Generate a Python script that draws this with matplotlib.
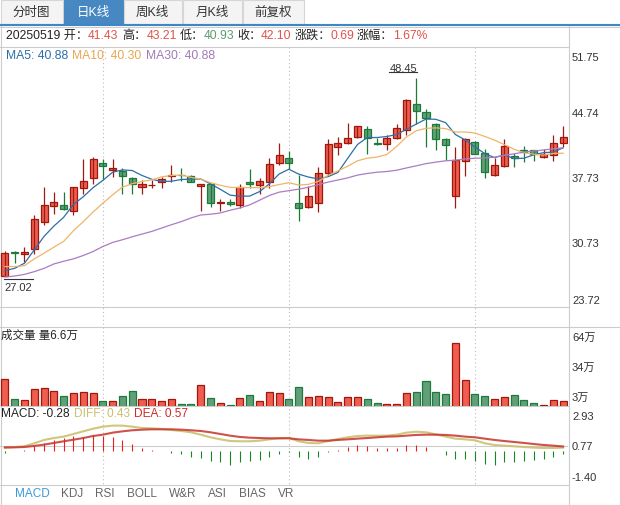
import matplotlib
matplotlib.use("Agg")
import matplotlib.pyplot as plt
import numpy as np
import pandas as pd
from matplotlib.lines import Line2D
from matplotlib.patches import Rectangle
from matplotlib.transforms import blended_transform_factory, ScaledTranslation

plt.rcParams['font.family'] = ['Liberation Sans', 'Noto Sans CJK SC']

# ---- data (daily K line, last 58 sessions) ----
last_date = "20250519"
opens = [27.06, 29.67, 29.38, 29.95, 32.88, 34.62, 34.73, 34.04, 36.57, 37.58,
         39.25, 38.52, 38.34, 37.66, 36.64, 36.82, 37.22, 37.87, 37.98, 37.87,
         36.75, 36.93, 34.91, 35.05, 34.69, 37.22, 36.86, 37.22, 39.28, 39.83,
         34.94, 34.51, 34.94, 38.13, 41.02, 41.45, 42.10, 42.86, 41.45, 41.27,
         41.99, 42.79, 45.57, 44.71, 43.40, 41.88, 35.70, 39.50, 41.56, 40.37,
         37.98, 38.92, 39.97, 40.69, 40.62, 39.93, 40.11, 41.43]
highs = [29.81, 29.77, 30.24, 33.68, 36.64, 36.10, 36.10, 36.64, 39.64, 39.93,
         39.64, 39.72, 38.70, 37.70, 37.40, 37.40, 37.76, 39.07, 38.67, 37.91,
         36.97, 37.00, 35.38, 35.38, 36.93, 38.63, 37.66, 39.75, 41.45, 40.58,
         37.91, 36.75, 38.81, 41.81, 42.10, 43.51, 43.26, 43.22, 41.96, 42.25,
         43.48, 46.15, 48.45, 45.07, 43.51, 41.92, 41.02, 41.92, 41.60, 40.80,
         39.79, 41.78, 40.37, 41.13, 40.69, 40.80, 42.28, 43.21]
lows = [27.02, 28.44, 28.62, 29.41, 32.59, 33.75, 34.22, 33.68, 35.85, 36.93,
        37.47, 37.76, 35.92, 35.85, 35.85, 36.53, 36.57, 37.19, 37.29, 37.19,
        34.04, 34.51, 34.04, 34.65, 34.40, 36.57, 35.85, 36.50, 38.99, 38.63,
        32.96, 34.40, 33.93, 37.84, 40.11, 41.27, 41.96, 40.26, 41.16, 40.62,
        41.81, 42.25, 43.44, 41.02, 40.69, 39.57, 34.40, 37.84, 40.22, 37.58,
        37.84, 38.81, 38.85, 39.39, 39.43, 39.79, 39.46, 40.93]
closes = [29.52, 29.55, 29.67, 33.21, 34.73, 35.05, 34.29, 36.61, 37.33, 39.64,
          38.96, 38.70, 37.87, 37.00, 36.97, 36.90, 37.55, 37.98, 37.91, 37.22,
          36.93, 34.94, 35.02, 34.80, 36.64, 37.00, 37.33, 39.17, 40.15, 39.21,
          34.37, 35.74, 38.20, 41.34, 41.45, 41.99, 43.19, 41.99, 41.34, 41.99,
          43.04, 46.01, 44.81, 44.05, 41.88, 41.23, 39.61, 41.88, 40.26, 38.31,
          39.07, 41.13, 39.80, 40.48, 40.18, 40.22, 41.41, 42.10]
# volume in 万
volumes = [24.1, 8.2, 7.4, 15.9, 17.1, 14.4, 11.0, 12.8, 13.6, 12.8,
           7.1, 6.6, 11.0, 14.4, 8.2, 8.2, 6.6, 8.2, 4.8, 4.8,
           19.0, 8.9, 5.1, 3.5, 8.9, 11.7, 6.6, 13.6, 12.8, 8.2,
           17.9, 10.0, 10.7, 9.7, 6.1, 9.7, 9.7, 8.4, 5.1, 4.3,
           4.3, 12.8, 13.8, 22.1, 13.8, 12.0, 51.4, 22.8, 12.0, 10.5,
           8.2, 9.7, 11.3, 7.4, 5.1, 3.8, 7.4, 6.6]
# moving-average values before the window is full
ma5_head = [27.64, 27.89, 28.44, 29.88]
ma10_head = [28.08, 28.08, 28.18, 28.91, 29.52, 30.17, 30.79, 31.94, 32.92]
ma30_head = [26.95, 27.06, 27.24, 27.53, 27.89, 28.36, 28.65, 28.91, 29.27, 29.70,
             30.24, 30.68, 30.97, 31.29, 31.58, 31.87, 32.23, 32.59, 32.92, 33.32,
             33.64, 33.72, 33.86, 34.15, 34.40, 34.73, 35.23, 35.74, 36.10]
diff = [0.40, 0.51, 0.59, 0.93, 1.31, 1.53, 1.69, 1.99, 2.29, 2.59,
        2.82, 2.94, 2.94, 2.82, 2.67, 2.63, 2.56, 2.44, 2.33, 2.18,
        1.91, 1.61, 1.38, 1.19, 1.16, 1.16, 1.23, 1.38, 1.50, 1.53,
        1.16, 0.97, 0.93, 1.19, 1.42, 1.61, 1.76, 1.80, 1.80, 1.80,
        1.91, 2.14, 2.25, 2.18, 1.95, 1.69, 1.46, 1.38, 1.27, 0.93,
        0.74, 0.66, 0.59, 0.51, 0.44, 0.40, 0.40, 0.43]
dea = [0.47, 0.47, 0.51, 0.63, 0.78, 0.97, 1.16, 1.34, 1.53, 1.76,
       1.91, 2.14, 2.29, 2.41, 2.48, 2.52, 2.52, 2.52, 2.48, 2.41,
       2.33, 2.18, 1.99, 1.80, 1.65, 1.57, 1.53, 1.50, 1.50, 1.50,
       1.38, 1.31, 1.23, 1.23, 1.31, 1.38, 1.46, 1.53, 1.61, 1.69,
       1.72, 1.80, 1.88, 1.91, 1.91, 1.88, 1.80, 1.69, 1.61, 1.46,
       1.31, 1.19, 1.08, 0.97, 0.85, 0.74, 0.66, 0.57]
macd_hist = [-0.20, 0.10, 0.20, 0.59, 1.00, 1.34, 1.50, 1.76, 1.61, 1.91,
             1.72, 1.61, 1.34, 0.85, 0.44, 0.17, 0.06, -0.13, -0.28, -0.59,
             -0.74, -1.12, -1.23, -1.50, -1.23, -1.12, -0.97, -0.59, -0.28, -0.05,
             -0.66, -0.85, -0.66, -0.05, 0.21, 0.47, 0.74, 0.63, 0.44, 0.36,
             0.40, 0.74, 0.70, 0.51, 0.06, -0.36, -0.85, -0.89, -1.04, -1.42,
             -1.53, -1.23, -1.16, -1.04, -0.97, -0.85, -0.59, -0.28]
price_ticks = [51.75, 44.74, 37.73, 30.73, 23.72]
vol_ticks = ["64万", "34万", "3万"]
macd_ticks = ["2.93", "0.77", "-1.40"]
month_starts = [10, 29, 48]
top_tabs = ["分时图", "日K线", "周K线", "月K线", "前复权"]
bottom_tabs = ["MACD", "KDJ", "RSI", "BOLL", "W&R", "ASI", "BIAS", "VR"]

# ---- colours ----
UP_FILL, UP_EDGE = "#ee5d4f", "#a3160c"
DN_FILL, DN_EDGE = "#609f78", "#1d7a3d"
TXT_RED, TXT_GREEN, TXT = "#e0534a", "#5c9c70", "#222222"
C_MA5, C_MA10, C_MA30 = "#2d6ea8", "#f0b468", "#a97dc4"
C_DIFF, C_DEA = "#cbc06e", "#c8322c"
GRID = "#cccccc"

opens, highs, lows, closes = map(np.array, (opens, highs, lows, closes))
x = np.arange(len(closes))
up = closes >= opens


def moving_avg(n, head):
    m = pd.Series(closes).rolling(n).mean().to_numpy()
    m[:len(head)] = head
    return m


ma5 = moving_avg(5, ma5_head)
ma10 = moving_avg(10, ma10_head)
ma30 = moving_avg(30, ma30_head)

W, H = 620, 506
fig = plt.figure(figsize=(W / 100, H / 100), dpi=100)
renderer = fig.canvas.get_renderer()

bg = fig.add_axes([0, 0, 1, 1], zorder=0)
bg.set_xlim(0, W)
bg.set_ylim(H, 0)
bg.axis("off")


def panel(y0, y1):
    a = fig.add_axes([0, 1 - y1 / H, 568 / W, (y1 - y0) / H], zorder=1)
    a.set_facecolor("none")
    a.axis("off")
    a.set_xlim(-0.5, len(closes) - 0.5)
    return a


ax_p = panel(48, 308)
ax_v = panel(328, 407)
ax_m = panel(407, 486)


def px(dy):
    return ScaledTranslation(0, -dy / 100, fig.dpi_scale_trans)


def right_label(ax, y, s, dy, tr=None):
    tr = ax.get_yaxis_transform() if tr is None else tr
    ax.text(1.0, y, s, transform=tr + ScaledTranslation(4 / 100, 0, fig.dpi_scale_trans) + px(dy),
            fontsize=8, color="#333333", ha="left", va="center", clip_on=False)


def write_row(x0, y, parts, size):
    for s, col, gap in parts:
        t = bg.text(x0, y, s, color=col, fontsize=size, ha="left", va="center")
        x0 += t.get_window_extent(renderer).width + gap


# ---- top tabs and frame ----
tab_edges = [0, 63, 123, 182, 242, 304]
for i, name in enumerate(top_tabs):
    sel = i == 1
    bg.add_patch(Rectangle((tab_edges[i] + 0.5, 0.5), tab_edges[i + 1] - tab_edges[i] - 1, 24.5,
                           facecolor="#4787c2" if sel else "#f4f4f4",
                           edgecolor="#4787c2" if sel else "#d6d6d6", lw=0.8))
    bg.text((tab_edges[i] + tab_edges[i + 1]) / 2, 13, name, ha="center", va="center",
            fontsize=9, color="white" if sel else "#333333")
bg.plot([0, W], [25.5, 25.5], color="#3f86c6", lw=1.5)
for y0, x1 in [(27.5, W), (47.5, 568.5), (307.5, 568.5), (327.5, W), (406.5, 568.5),
               (485.5, 568.5), (505.5, W)]:
    bg.plot([0, x1], [y0, y0], color=GRID, lw=0.8)
for xx in [0.5, 568.5, 619.5]:
    bg.plot([xx, xx], [27, 506], color=GRID, lw=0.8)

tr_month = blended_transform_factory(ax_p.transData, bg.transData)
for m in month_starts:
    fig.add_artist(Line2D([m, m], [48, 486], transform=tr_month, color="#bdbdbd",
                          lw=0.8, linestyle=(0, (1, 2.5)), zorder=0.5))

# ---- info rows ----
chg = closes[-1] - closes[-2]
write_row(6, 35.5, [
    (f"{last_date} 开：", TXT, 0), (f"{opens[-1]:.2f}", TXT_RED, 4),
    ("高：", TXT, 0), (f"{highs[-1]:.2f}", TXT_RED, 2.5),
    ("低：", TXT, 0), (f"{lows[-1]:.2f}", TXT_GREEN, 2.5),
    ("收：", TXT, 0), (f"{closes[-1]:.2f}", TXT_RED, 2.5),
    ("涨跌：", TXT, 0), (f"{chg:.2f}", TXT_RED, 2.5),
    ("涨幅：", TXT, 0), (f"{chg / closes[-2] * 100:.2f}%", TXT_RED, 0)], 8.7)
write_row(6, 55.5, [
    (f"MA5: {ma5[-1]:.2f}", C_MA5, 4), (f"MA10: {ma10[-1]:.2f}", "#eaa650", 4),
    (f"MA30: {ma30[-1]:.2f}", "#a27ab8", 0)], 8.7)
write_row(1, 336, [(f"成交量 量{volumes[-1]:.1f}万", TXT, 0)], 8.3)
write_row(1, 414.5, [
    (f"MACD: {macd_hist[-1]:.2f}", TXT, 4), (f"DIFF: {diff[-1]:.2f}", C_DIFF, 4),
    (f"DEA: {dea[-1]:.2f}", "#d02a2a", 0)], 8.6)
write_row(14.5, 494.5, [(name, "#3a9ad9" if i == 0 else "#666666", 12)
                        for i, name in enumerate(bottom_tabs)], 8.5)

# ---- price panel ----
ax_p.set_ylim(min(price_ticks), max(price_ticks))
ax_p.vlines(x, lows, highs, colors=np.where(up, "#9a1b10", "#1c7a33"), lw=0.9)
ax_p.bar(x, np.abs(closes - opens), bottom=np.minimum(opens, closes), width=0.72,
         color=np.where(up, UP_FILL, DN_FILL), edgecolor=np.where(up, UP_EDGE, DN_EDGE), lw=0.9)
ax_p.plot(x, ma5, color=C_MA5, lw=0.9)
ax_p.plot(x, ma10, color=C_MA10, lw=0.9)
ax_p.plot(x, ma30, color=C_MA30, lw=0.9)
for i, t in enumerate(price_ticks):
    dy = 10 if i == 0 else (-7.5 if i == len(price_ticks) - 1 else 1)
    right_label(ax_p, t, f"{t:.2f}", dy)

# highest / lowest marks
inv = bg.transData.inverted()
i_hi, i_lo = int(np.argmax(highs)), int(np.argmin(lows))
t_hi = ax_p.annotate(f"{highs[i_hi]:.2f}", xy=(i_hi, highs[i_hi]), xytext=(0.5, 3.2),
                     textcoords="offset points", ha="right", va="bottom", fontsize=8, color="#333333")
t_lo = ax_p.annotate(f"{lows[i_lo]:.2f}", xy=(i_lo, lows[i_lo]), xytext=(0, -3.9),
                     textcoords="offset points", ha="left", va="top", fontsize=8, color="#333333")
for t, idx, val, dy in [(t_hi, i_hi, highs[i_hi], -5.6), (t_lo, i_lo, lows[i_lo], 2.9)]:
    bb = t.get_window_extent(renderer)
    (bx0, _), (bx1, _) = inv.transform([[bb.x0, bb.y0], [bb.x1, bb.y1]])
    _, yy = inv.transform(ax_p.transData.transform((idx, val)))
    bg.plot([bx0 - 0.5, bx1 + 0.5], [yy + dy, yy + dy], color="#333333", lw=0.8)

# ---- volume panel ----
ax_v.set_ylim(3, 64)
ax_v.bar(x, volumes, width=0.72, color=np.where(up, UP_FILL, DN_FILL),
         edgecolor=np.where(up, UP_EDGE, DN_EDGE), lw=0.9)
for s, fy, dy in zip(vol_ticks, [1, 0.5, 0], [10, 0, -9]):
    right_label(ax_v, fy, s, dy, ax_v.transAxes)

# ---- MACD panel ----
ax_m.set_ylim(-3.81, 5.17)
ax_m.axhline(np.mean(ax_m.get_ylim()), color=GRID, lw=0.8)
hist = np.array(macd_hist)
ax_m.vlines(x, 0, hist, colors=np.where(hist >= 0, "#ee1c1c", "#17871f"), lw=0.8)
ax_m.plot(x, diff, color=C_DIFF, lw=1.5, alpha=0.9)
ax_m.plot(x, dea, color=C_DEA, lw=1.5, alpha=0.85)
for s, fy, dy in zip(macd_ticks, [1, 0.5, 0], [10, 0.5, -8]):
    right_label(ax_m, fy, s, dy, ax_m.transAxes)

fig.savefig("out.png", dpi=100)
